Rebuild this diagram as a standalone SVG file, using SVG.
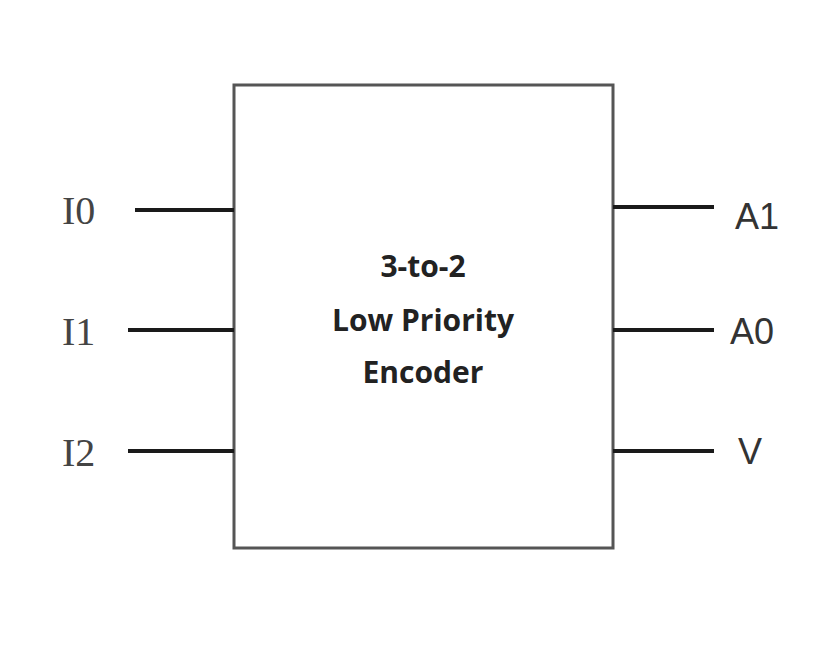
<svg xmlns="http://www.w3.org/2000/svg" width="828" height="663" viewBox="0 0 828 663">
<style>
.w{stroke:#1a1a1a;stroke-width:4;fill:none}
.in{font-family:"Liberation Serif",serif;font-size:40px;fill:#444}
.out{font-family:"Liberation Sans",sans-serif;font-size:36px;fill:#333}
.t{font-family:"Open Sans","Liberation Sans",sans-serif;font-size:30px;font-weight:bold;fill:#222;text-anchor:middle}
</style>
<rect width="828" height="663" fill="#fff"/>
<g id="encoder">
<rect x="234" y="85" width="379" height="463" fill="#fff" stroke="#555" stroke-width="3"/>
<text class="t" x="423" y="277">3-to-2</text>
<text class="t" x="423" y="331">Low Priority</text>
<text class="t" x="423" y="383">Encoder</text>
</g>
<g id="connectors">
<line class="w" x1="135" y1="210" x2="234" y2="210"/>
<line class="w" x1="128" y1="330" x2="234" y2="330"/>
<line class="w" x1="128" y1="451" x2="234" y2="451"/>
<line class="w" x1="613" y1="207" x2="714" y2="207"/>
<line class="w" x1="613" y1="330" x2="714" y2="330"/>
<line class="w" x1="613" y1="451" x2="714" y2="451"/>
</g>
<g id="labels">
<text class="in" x="62" y="224">I0</text>
<text class="in" x="62" y="345">I1</text>
<text class="in" x="62" y="466">I2</text>
<text class="out" x="735" y="229">A1</text>
<text class="out" x="730" y="344">A0</text>
<text class="out" x="738" y="464">V</text>
</g>
</svg>
